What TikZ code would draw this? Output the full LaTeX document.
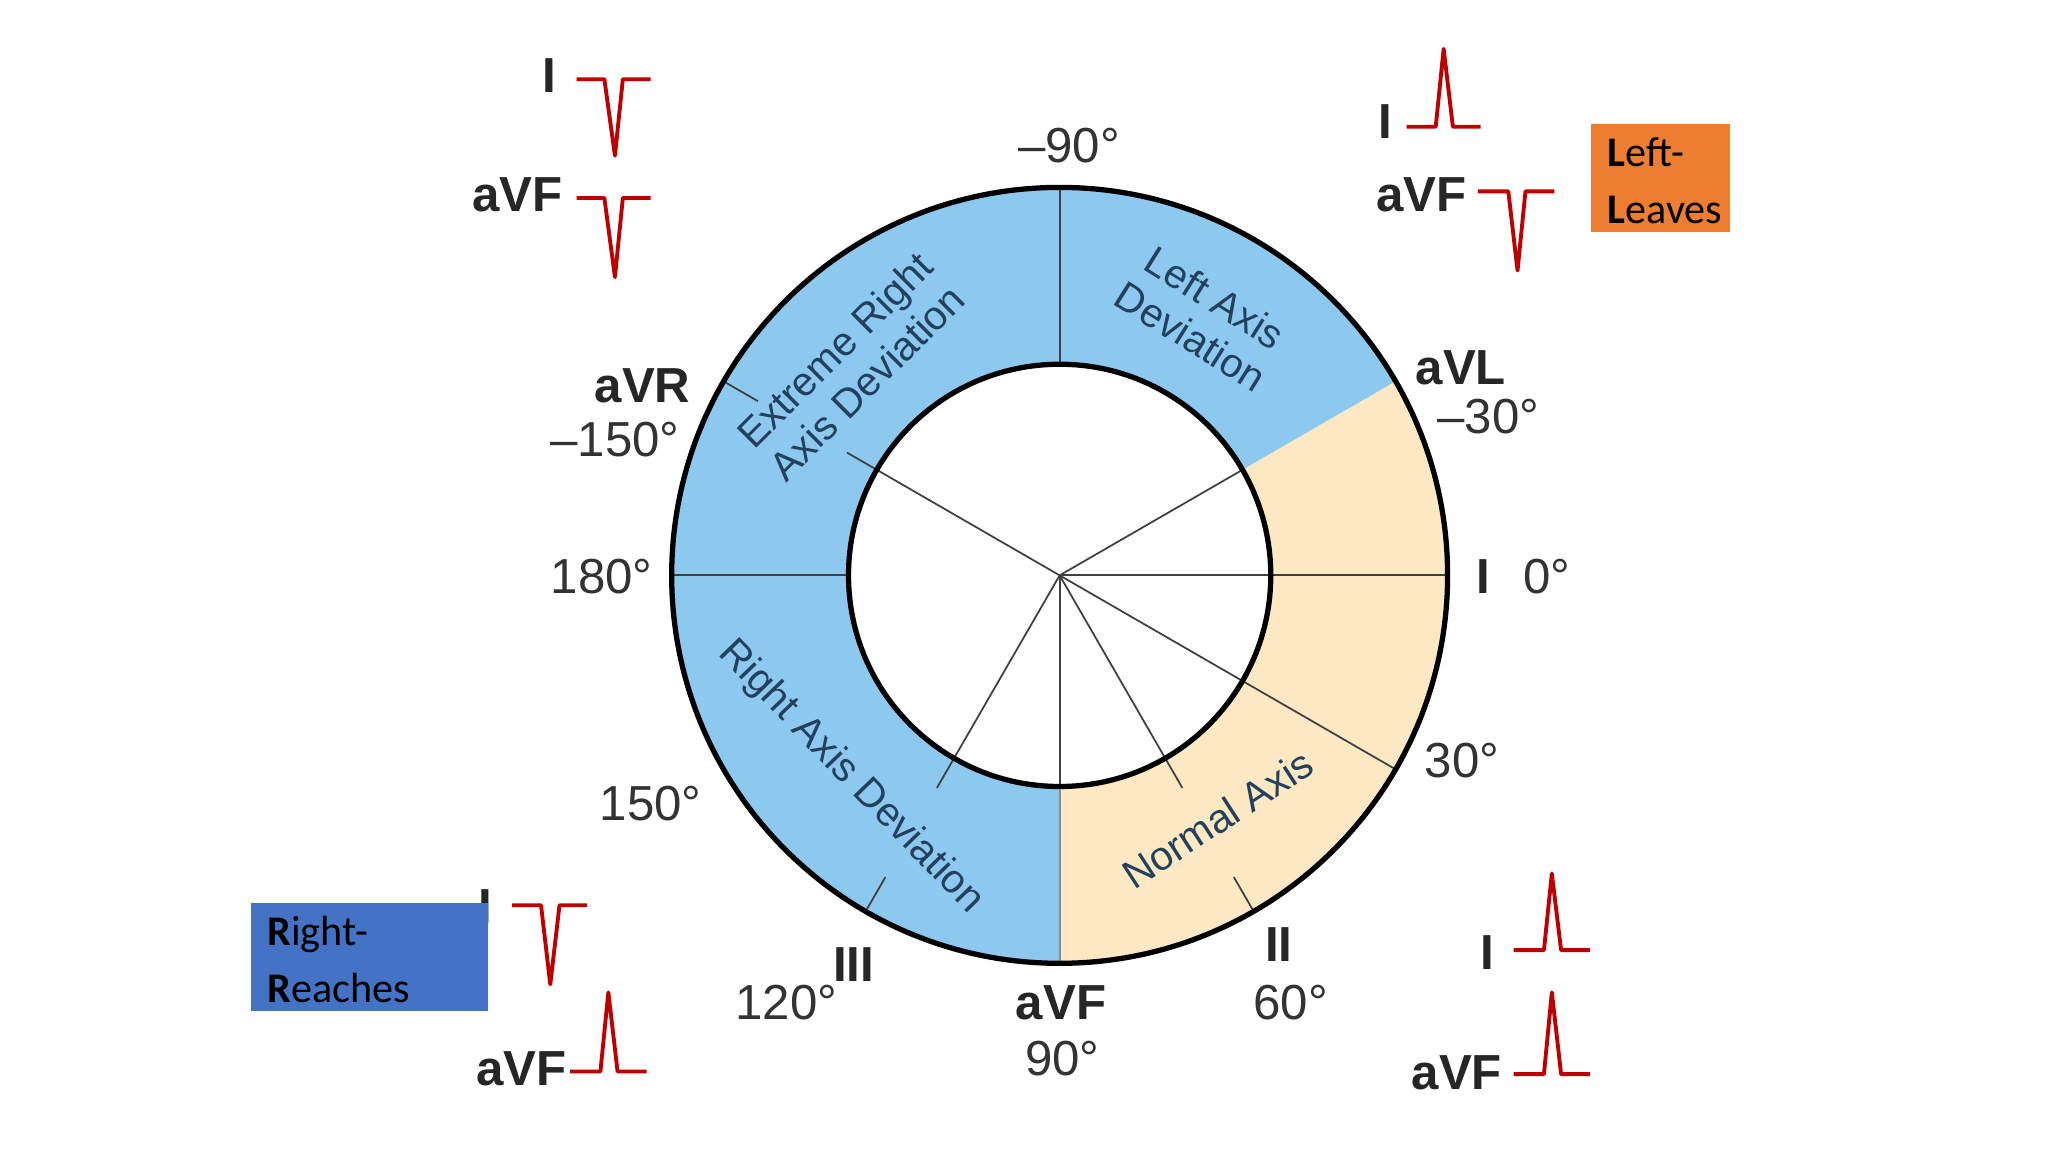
\documentclass[tikz,border=0pt]{standalone}
\usepackage{fontspec}
\setmainfont{Liberation Sans}
\newfontfamily\calib{Carlito}
\begin{document}
\begin{tikzpicture}[x=0.013196cm,y=-0.013196cm,
  deg/.style={font=\fontsize{14}{14}\selectfont, text=black!80},
  lead/.style={font=\fontsize{14}{14}\selectfont\bfseries, text=black!85},
  ring/.style={font=\fontsize{11.5}{13}\selectfont, text=ringtxt, align=center},
  ecg/.style={draw=red!75!black, line width=1.1pt, line join=round},
  spoke/.style={draw=black!75, line width=0.5pt},
  boxs/.style={font=\calib\fontsize{12}{16}\selectfont, align=left, text=black, inner sep=0pt, anchor=north west}]
\definecolor{ringblue}{HTML}{8DC9EE}
\definecolor{ringyel}{HTML}{FCE8C2}
\definecolor{orgbox}{HTML}{ED7D31}
\definecolor{bluebox}{HTML}{4472C4}
\definecolor{ringtxt}{HTML}{23405E}
\useasboundingbox (0,0) rectangle (1552,873);
\fill[white] (0,0) rectangle (1552,873);
\begin{scope}[shift={(803,436)}]
  \coordinate (c) at (0,0);
  \fill[ringblue, even odd rule] (0,0) circle (294) (0,0) circle (160);
  \fill[ringyel] (-30:160) -- (-30:294) arc[start angle=-30,end angle=90,radius=294] -- (90:160) arc[start angle=90,end angle=-30,radius=160] -- cycle;
  \foreach \a in {-150,-30,0,30,60,90,120} \draw[spoke] (c) -- (\a:160);
  \foreach \a in {-150,60,120} {\draw[spoke] (\a:160) -- (\a:186); \draw[spoke] (\a:264) -- (\a:294);}
  \foreach \a in {0,30,-90,180} \draw[spoke] (\a:160) -- (\a:294);
  \draw[draw=black!45, line width=0.6pt] (90:160) -- (90:294);
  \draw[line width=1.5pt] (0,0) circle (294);
  \draw[line width=1.5pt] (0,0) circle (160);
  \node[ring, rotate=45] (ext) at (-135:224) {Extreme Right\\Axis Deviation};
  \node[ring, rotate=-32] (lad) at (-61:224) {Left Axis\\Deviation};
  \node[ring, rotate=-46] (rad) at (136:220) {Right Axis Deviation};
  \node[ring, rotate=33] (nax) at (57:220) {Normal Axis};
\end{scope}
\node[deg] (m90) at (810,110) {–90°};
\node[lead] (avl) at (1107,279) {aVL};
\node[deg] (m30) at (1128,316) {–30°};
\node[lead] (li) at (1124,437) {I};
\node[deg] (d0) at (1172,437) {0°};
\node[deg] (d30) at (1108,576) {30°};
\node[lead] (lii) at (969,716) {II};
\node[deg] (d60) at (978,760) {60°};
\node[lead] (lavf) at (804,760) {aVF};
\node[deg] (d90) at (805,802) {90°};
\node[lead] (liii) at (647,731) {III};
\node[deg] (d120) at (596,760) {120°};
\node[deg] (d150) at (493,609) {150°};
\node[deg] (d180) at (456,437) {180°};
\node[lead] (avr) at (487,292) {aVR};
\node[deg] (m150) at (466,333) {–150°};
\node[lead] (tlI) at (416,57) {I};
\draw[ecg] (437,60) -- (458,60) -- (466,118) -- (472,60) -- (493,60);
\node[lead] (tlF) at (392,148) {aVF};
\draw[ecg] (437,150) -- (458,150) -- (466,210) -- (472,150) -- (493,150);
\node[lead] (trI) at (1050,92) {I};
\draw[ecg] (1066,96) -- (1088,96) -- (1094,37) -- (1101,96) -- (1122,96);
\node[lead] (trF) at (1077,148) {aVF};
\draw[ecg] (1120,145) -- (1143,145) -- (1150,205) -- (1156,145) -- (1178,145);
\node[lead] (blI) at (368,687) {I};
\draw[ecg] (388,686) -- (410,686) -- (417,746) -- (424,686) -- (445,686);
\node[lead] (blF) at (395,810) {aVF};
\draw[ecg] (432,812) -- (455,812) -- (461,752) -- (468,812) -- (490,812);
\node[lead] (brI) at (1127,722) {I};
\draw[ecg] (1147,720) -- (1170,720) -- (1176,662) -- (1183,720) -- (1205,720);
\node[lead] (brF) at (1104,813) {aVF};
\draw[ecg] (1147,814) -- (1170,814) -- (1176,752) -- (1183,814) -- (1205,814);
\fill[orgbox] (1206,94) rectangle (1311,176);
\node[boxs] (lbox) at (1218,104) {\textbf{L}eft-\\\textbf{L}eaves};
\fill[bluebox] (190,684) rectangle (370,766);
\node[boxs] (rbox) at (202,694) {\textbf{R}ight-\\\textbf{R}eaches};
\end{tikzpicture}
\end{document}
